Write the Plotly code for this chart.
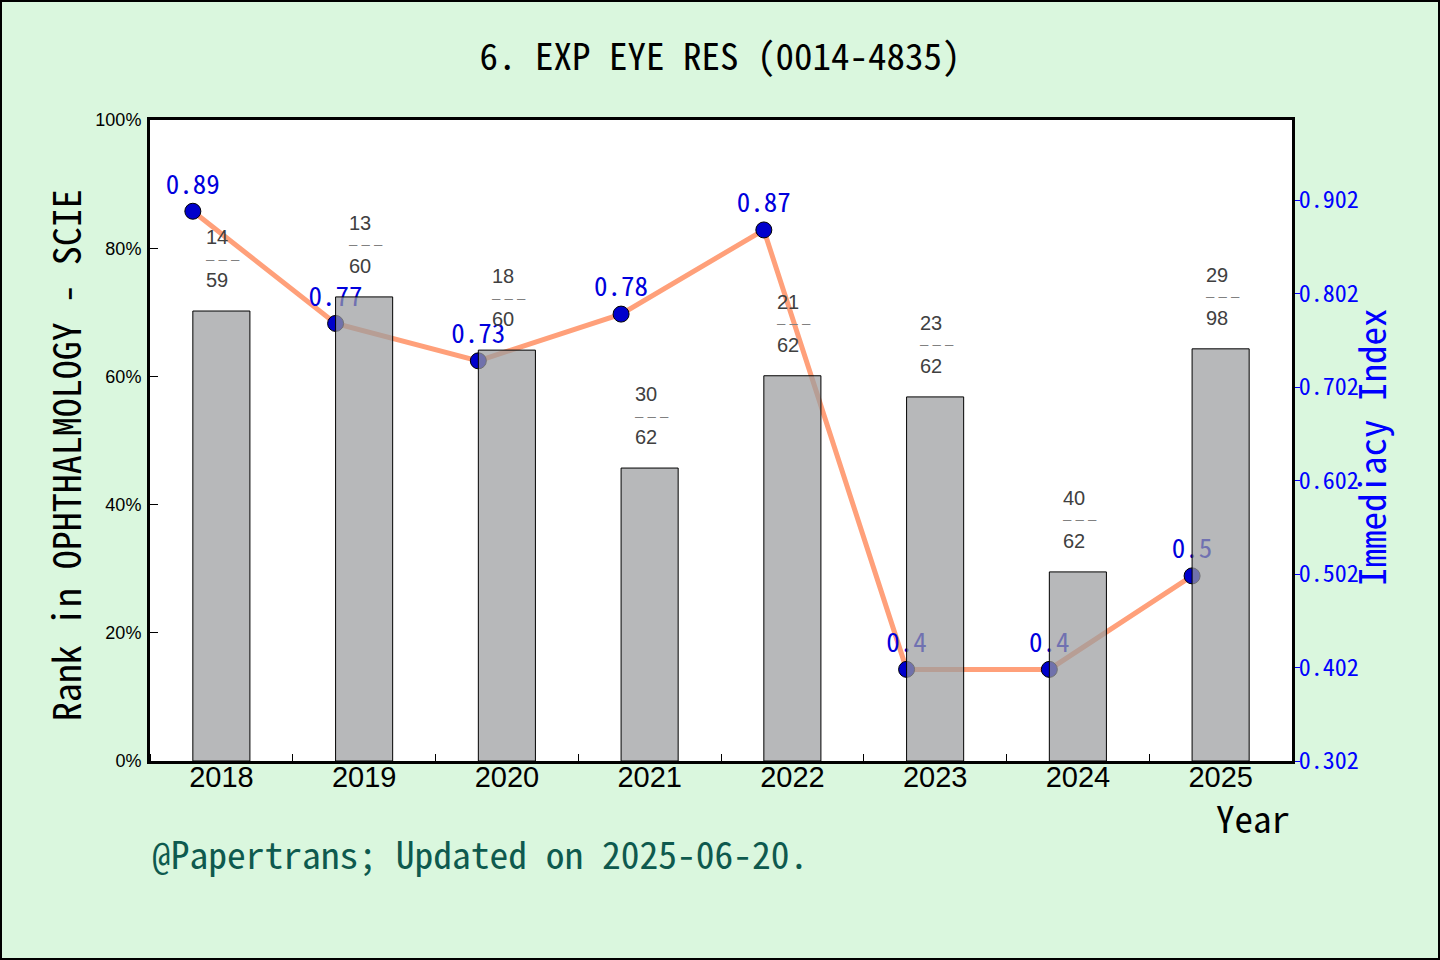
import plotly.graph_objects as go

# Data
years = [2018, 2019, 2020, 2021, 2022, 2023, 2024, 2025]
rank_pct = [0.702, 0.724, 0.641, 0.457, 0.601, 0.568, 0.295, 0.643]
rank_pos = [14, 13, 18, 30, 21, 23, 40, 29]
rank_total = [59, 60, 60, 62, 62, 62, 62, 98]
imm_index = [0.89, 0.77, 0.73, 0.78, 0.87, 0.4, 0.4, 0.5]
right_ticks = [0.302, 0.402, 0.502, 0.602, 0.702, 0.802, 0.902]

mono = "Noto Sans Mono CJK SC, DejaVu Sans Mono, monospace"
sans = "Liberation Sans, Arial, sans-serif"

# line + markers on the base axis (right side), bars overlay on top
line = go.Scatter(
    x=[y - 0.2 for y in years], y=imm_index,
    mode="lines+markers+text",
    text=[str(v) for v in imm_index],
    textposition="top center",
    textfont=dict(family=mono, size=27, color="#0000dd"),
    line=dict(color="#ffa07a", width=5),
    marker=dict(size=16, color="#0000cc", line=dict(color="black", width=1)),
    xaxis="x", yaxis="y", showlegend=False, cliponaxis=False,
)

bars = go.Bar(
    x=years, y=rank_pct, width=0.4,
    marker=dict(color="rgba(155,156,159,0.72)", line=dict(color="black", width=1)),
    xaxis="x", yaxis="y2", showlegend=False,
)

fig = go.Figure(data=[line, bars])

# rank labels above bars: rank / dashes / total
for yr, v, p, t in zip(years, rank_pct, rank_pos, rank_total):
    for txt, dy, size, col in [(str(p), 74, 20, "#404040"),
                               ("– – –", 53, 15, "#808080"),
                               (str(t), 31, 20, "#404040")]:
        fig.add_annotation(
            x=yr, y=v, xref="x", yref="y2", xanchor="left", yanchor="middle",
            xshift=-17, yshift=dy, text=txt, showarrow=False,
            font=dict(family=sans, size=size, color=col),
        )

pw, ph = 1142, 641
fig.add_annotation(x=-86 / pw, y=0.477, xref="paper", yref="paper",
                   xanchor="center", yanchor="middle",
                   text="Rank in OPHTHALMOLOGY - SCIE", textangle=-90, showarrow=False,
                   font=dict(family=mono, size=38, color="black"))
fig.add_annotation(x=1 + 78 / pw, y=0.49, xref="paper", yref="paper",
                   xanchor="center", yanchor="middle",
                   text="Immediacy Index", textangle=-90, showarrow=False,
                   font=dict(family=mono, size=37, color="blue"))
fig.add_annotation(x=1, y=-56 / ph, xref="paper", yref="paper",
                   xanchor="right", yanchor="middle",
                   text="Year", showarrow=False,
                   font=dict(family=mono, size=37, color="black"))
fig.add_annotation(x=0, y=-91 / ph, xref="paper", yref="paper",
                   xanchor="left", yanchor="middle",
                   text="@Papertrans; Updated on 2025-06-20.", showarrow=False,
                   font=dict(family=mono, size=37.5, color="#0e5a4e"))

# outer border of the figure
fig.add_shape(type="rect", xref="paper", yref="paper",
              x0=-149 / pw, x1=1 + 147 / pw, y0=-198 / ph, y1=1 + 119 / ph,
              line=dict(color="black", width=2))

fig.update_layout(
    width=1440, height=960,
    margin=dict(l=150, r=148, t=120, b=199),
    paper_bgcolor="#daf7de", plot_bgcolor="white",
    title=dict(text="6. EXP EYE RES (0014-4835)", x=0.5, xanchor="center",
               y=1 - 57 / 960, yanchor="middle",
               font=dict(family=mono, size=37, color="black")),
    xaxis=dict(range=[2017.5, 2025.5], tickvals=years, ticktext=[str(y) for y in years],
               ticks="", showgrid=False, zeroline=False, ticklabelstandoff=-12,
               showline=True, linecolor="black", linewidth=3, mirror=True,
               tickfont=dict(family=sans, size=29, color="black"),
               minor=dict(ticks="inside", tick0=2017.5, dtick=1, ticklen=7,
                          tickcolor="black", tickwidth=1, showgrid=False)),
    yaxis=dict(side="right", range=[0.302, 0.9876], tickvals=right_ticks,
               ticktext=[f"{v:.3f}" for v in right_ticks],
               ticks="outside", ticklen=5, tickcolor="blue", showgrid=False, zeroline=False,
               ticklabelstandoff=-6,
               showline=True, linecolor="black", linewidth=3,
               tickfont=dict(family=mono, size=24, color="blue")),
    yaxis2=dict(overlaying="y", side="left", range=[0, 1], tickvals=[0, 0.2, 0.4, 0.6, 0.8, 1.0],
                tickformat=".0%", ticks="inside", ticklen=8, tickcolor="black",
                showgrid=False, zeroline=False, ticklabelstandoff=2,
                showline=True, linecolor="black", linewidth=3,
                tickfont=dict(family=sans, size=18, color="black")),
)

fig.write_html("out.html", config={"displayModeBar": False},
               post_script="document.body.style.margin='0px';")
